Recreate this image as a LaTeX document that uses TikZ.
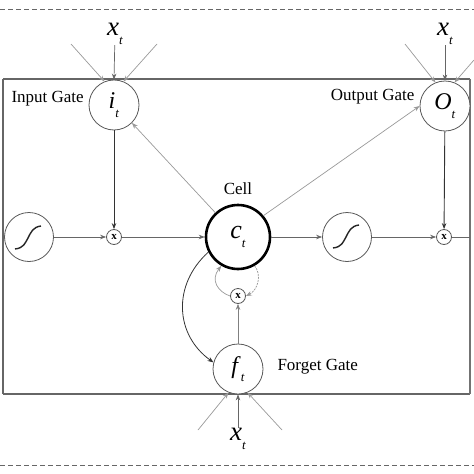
\documentclass[tikz,border=0pt]{standalone}
\usepackage{fontspec}
\setmainfont{Liberation Serif}
\usetikzlibrary{arrows.meta}
\newcommand{\vsub}[2]{\textit{#1}\raisebox{-0.35em}{\fontsize{13}{13}\selectfont\textit{#2}}}
\begin{document}
\begin{tikzpicture}[x=1pt,y=-1pt,
  gate/.style={circle,draw=black!65,line width=0.8pt,fill=white,minimum size=50pt,inner sep=0pt,font=\fontsize{24}{24}\selectfont},
  cellc/.style={circle,draw=black,line width=2.6pt,fill=white,minimum size=64pt,inner sep=0pt,font=\fontsize{26}{26}\selectfont},
  mult/.style={circle,draw=black!65,line width=0.8pt,fill=white,minimum size=15pt,inner sep=0pt,font=\fontsize{11}{11}\selectfont\bfseries},
  sig/.style={circle,draw=black!65,line width=0.8pt,fill=white,minimum size=49pt,inner sep=0pt},
  lbl/.style={font=\fontsize{17}{17}\selectfont,text=black},
  xin/.style={font=\fontsize{27}{27}\selectfont,inner sep=0pt},
  tip/.style={-{Stealth[length=6pt,width=4.5pt]}},
  dark/.style={tip,draw=black!80,line width=0.9pt},
  mid/.style={tip,draw=black!60,line width=0.7pt},
  light/.style={tip,draw=black!40,line width=0.7pt},
  dashln/.style={draw=black!60,line width=0.8pt,dash pattern=on 5pt off 3pt}]
\useasboundingbox (0,0) rectangle (474,474);
% dashed borders
\draw[dashln] (0,9) -- (474,9);
\draw[dashln] (0,465) -- (474,465);
% box
\draw[draw=black!60,line width=1.2pt] (3,79) -- (470,79);
\draw[draw=black!60,line width=1.2pt] (3,394) -- (470,394);
\draw[draw=black!60,line width=1.2pt] (3,79) -- (3,394);
\draw[draw=black!55,line width=2.4pt] (470,79) -- (470,394);
% nodes
\node[gate] (i) at (114,105) {\vsub{i}{t}};
\node[gate] (o) at (445,106) {\vsub{O}{t}};
\node[gate] (f) at (238,369) {\vsub{f}{t}};
\node[cellc] (c) at (238,237) {\vsub{c}{t}};
\node[sig] (s1) at (29,237) {};
\node[sig] (s2) at (347,237) {};
\node[mult] (m1) at (114,237) {x};
\node[mult] (m2) at (444,237) {x};
\node[mult] (m3) at (238,296) {x};
\coordinate (rend) at (470,237);
% sigmoid curves
\draw[line width=1.4pt,black!85] (15,249) .. controls (24,248) and (25,243) .. (28,238) .. controls (31,232) and (33,227) .. (41,226);
\draw[line width=1.4pt,black!85] (333,248) .. controls (342,247) and (343,242) .. (346,237) .. controls (349,231) and (351,226) .. (359,225);
% labels
\node[lbl,anchor=west] (li) at (8,99) {Input Gate};
\node[lbl,anchor=east] (lo) at (418,97) {Output Gate};
\node[lbl,anchor=west] (lf) at (274,367) {Forget Gate};
\node[lbl] (lc) at (238,189) {Cell};
\node[xin] (xi) at (115,34) {\vsub{x}{t}};
\node[xin] (xo) at (445,34) {\vsub{x}{t}};
\node[xin] (xf) at (238,439) {\vsub{x}{t}};
% input arrows
\coordinate (ia) at (71,44); \coordinate (ib) at (157,44);
\coordinate (oa) at (405,44); \coordinate (ob) at (474,60);
\coordinate (fa) at (198,430); \coordinate (fb) at (282,430);
\draw[light] (ia) -- (i.112);
\draw[mid] (xi) -- (i.north);
\draw[light] (ib) -- (i.68);
\draw[light] (oa) -- (o.112);
\draw[mid] (xo) -- (o.north);
\draw[light] (ob) -- (o.68);
\draw[light] (fa) -- (f.248);
\draw[mid] (xf) -- (f.south);
\draw[light] (fb) -- (f.292);
% main flow
\draw[dark] (i) -- (m1);
\draw[dark] (o) -- (m2);
\draw[mid] (s1) -- (m1);
\draw[mid] (m1) -- (c);
\draw[mid] (c) -- (s2);
\draw[mid] (s2) -- (m2);
\draw[draw=black!60,line width=0.7pt] (m2) -- (rend);
% peephole connections
\draw[light] (c.133) -- (i.-45);
\draw[light] (c.40) -- (o.west);
\draw[dark,line width=0.8pt] (c.207) .. controls (172,285) and (175,335) .. (f.165);
\draw[light] (m3.west) .. controls (218,292) and (210,280) .. (c.240);
\draw[light,dash pattern=on 2pt off 1pt] (c.300) .. controls (262,275) and (258,290) .. (m3.east);
\draw[light,draw=black!50] (f) -- (m3);
\end{tikzpicture}
\end{document}
